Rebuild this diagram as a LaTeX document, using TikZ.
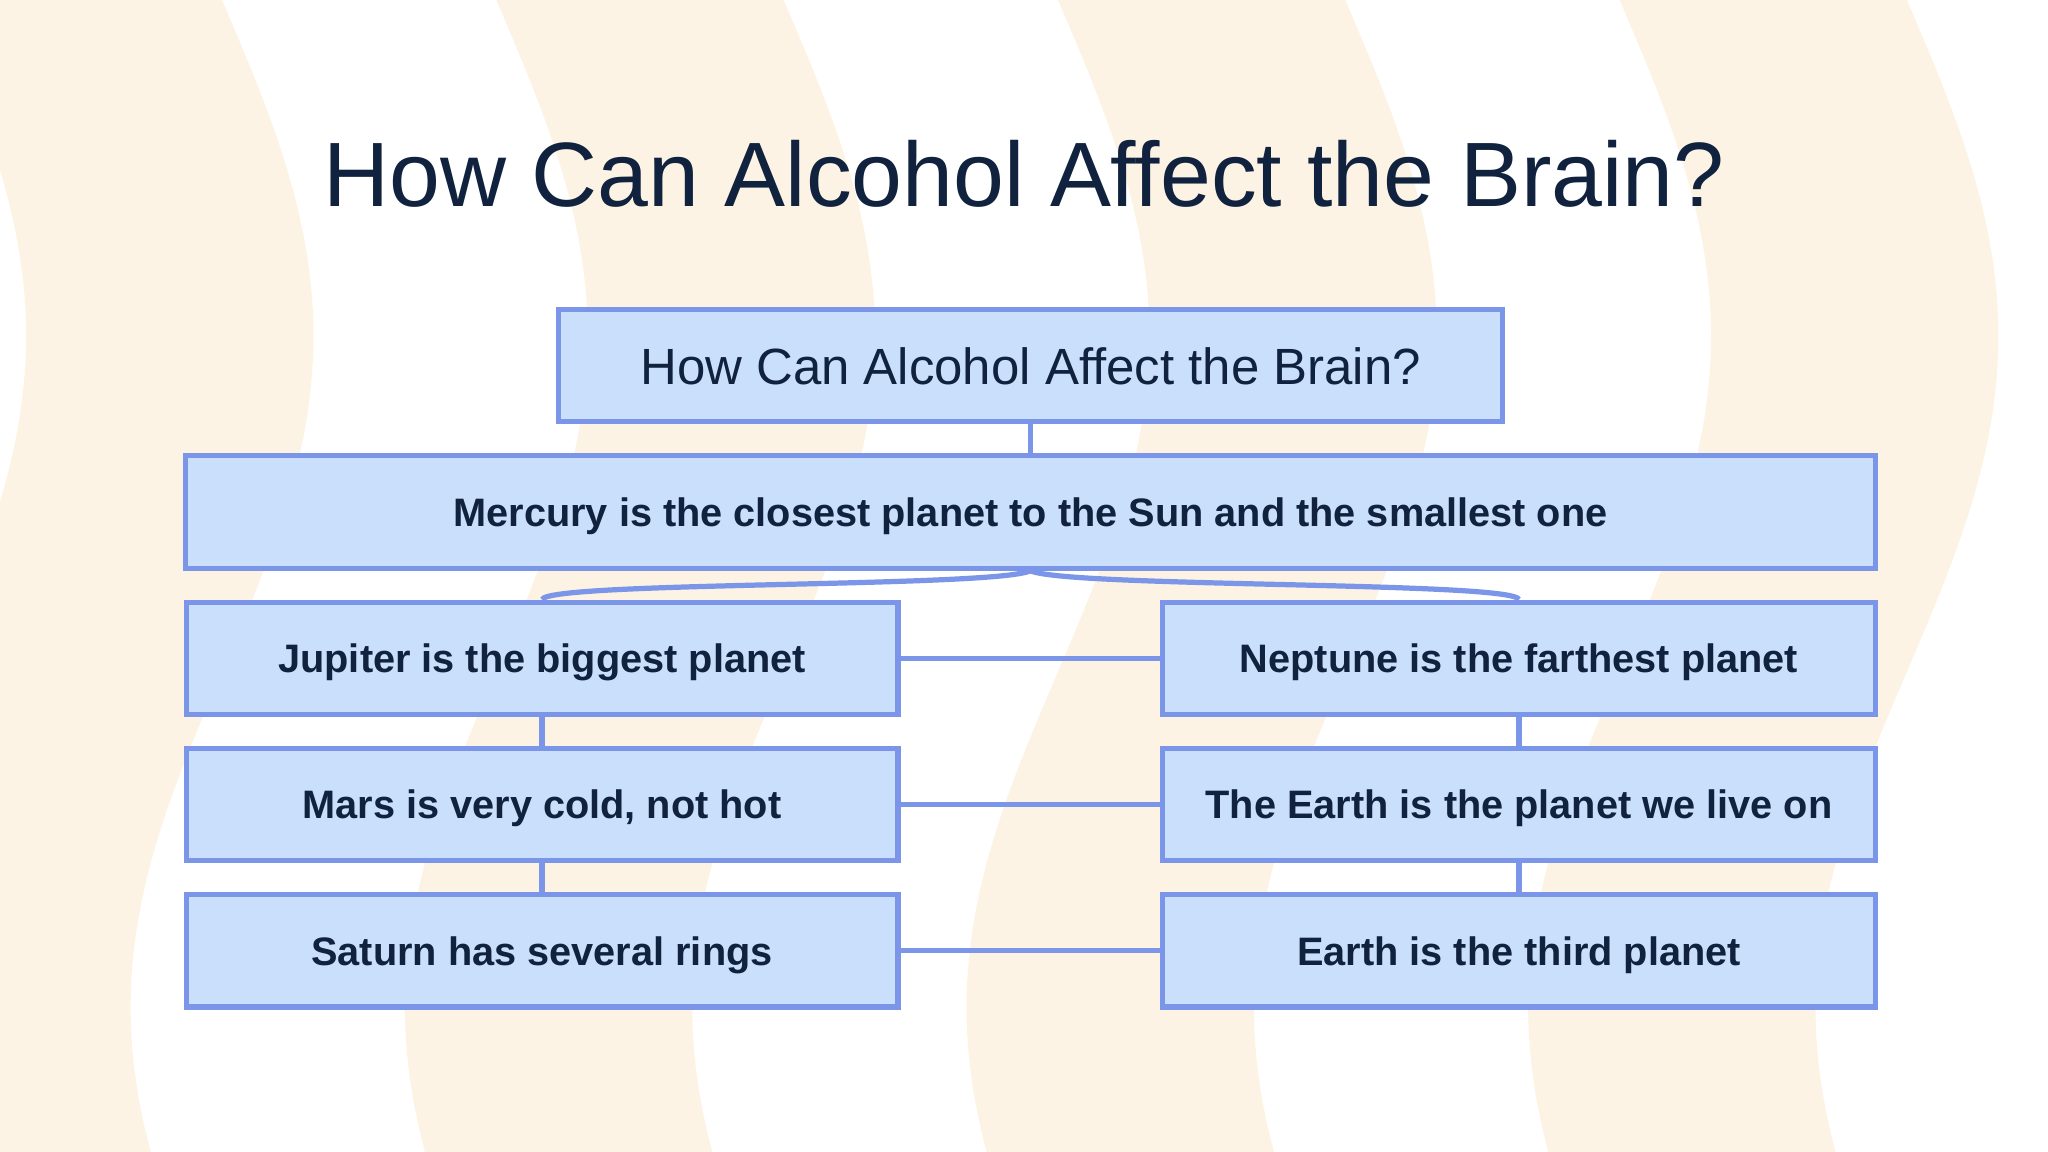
\documentclass[tikz,border=0pt]{standalone}
\usepackage{fontspec}
\setmainfont{Liberation Sans}
\definecolor{cream}{HTML}{FDF3E5}
\definecolor{boxfill}{HTML}{C9DFFC}
\definecolor{boxline}{HTML}{7B96E8}
\definecolor{ink}{HTML}{10223D}
\begin{document}
\begin{tikzpicture}[x=1pt,y=-1pt,
  box/.style={draw=boxline,line width=4pt,fill=boxfill,text=ink,inner sep=0pt,text depth=0pt,yshift=0pt},
  small/.style={box,minimum width=545pt,minimum height=86pt,font=\fontsize{30.4}{34}\selectfont\bfseries},
  conn/.style={draw=boxline,line width=4pt}]
\useasboundingbox (0,0) rectangle (1568,882);
\fill[white] (0,0) rectangle (1568,882);
\foreach \c in {60,490,920,1350,1780}{
\fill[cream] plot[variable=\t,domain=0:882,samples=40,smooth] ({\c-110+70*sin(\t*0.35)},\t) -- plot[variable=\t,domain=882:0,samples=40,smooth] ({\c+110+70*sin(\t*0.35)},\t) -- cycle;}
\node[text=ink,font=\fontsize{70}{78}\selectfont] (title) at (784,133) {How Can Alcohol Affect the Brain?};
\node[box,minimum width=723pt,minimum height=86pt,font=\fontsize{39}{44}\selectfont] (top) at (789,280) {How Can Alcohol Affect the Brain?};
\node[box,minimum width=1294pt,minimum height=86pt,font=\fontsize{30.4}{34}\selectfont\bfseries] (merc) at (789,392) {Mercury is the closest planet to the Sun and the smallest one};
\node[small] (l1) at (415,504) {Jupiter is the biggest planet};
\node[small] (l2) at (415,616) {Mars is very cold, not hot};
\node[small] (l3) at (415,728) {Saturn has several rings};
\node[small,minimum width=546pt] (r1) at (1163,504) {Neptune is the farthest planet};
\node[small,minimum width=546pt] (r2) at (1163,616) {The Earth is the planet we live on};
\node[small,minimum width=546pt] (r3) at (1163,728) {Earth is the third planet};
\draw[conn] (top.south) -- (merc.north);
\draw[conn] (merc.south) .. controls (760,450) and (420,445) .. (l1.north);
\draw[conn] (merc.south) .. controls (818,450) and (1158,445) .. (r1.north);
\draw[conn] (l1) -- (r1); \draw[conn] (l2) -- (r2); \draw[conn] (l3) -- (r3);
\draw[conn] (l1) -- (l2); \draw[conn] (l2) -- (l3);
\draw[conn] (r1) -- (r2); \draw[conn] (r2) -- (r3);
\end{tikzpicture}
\end{document}
